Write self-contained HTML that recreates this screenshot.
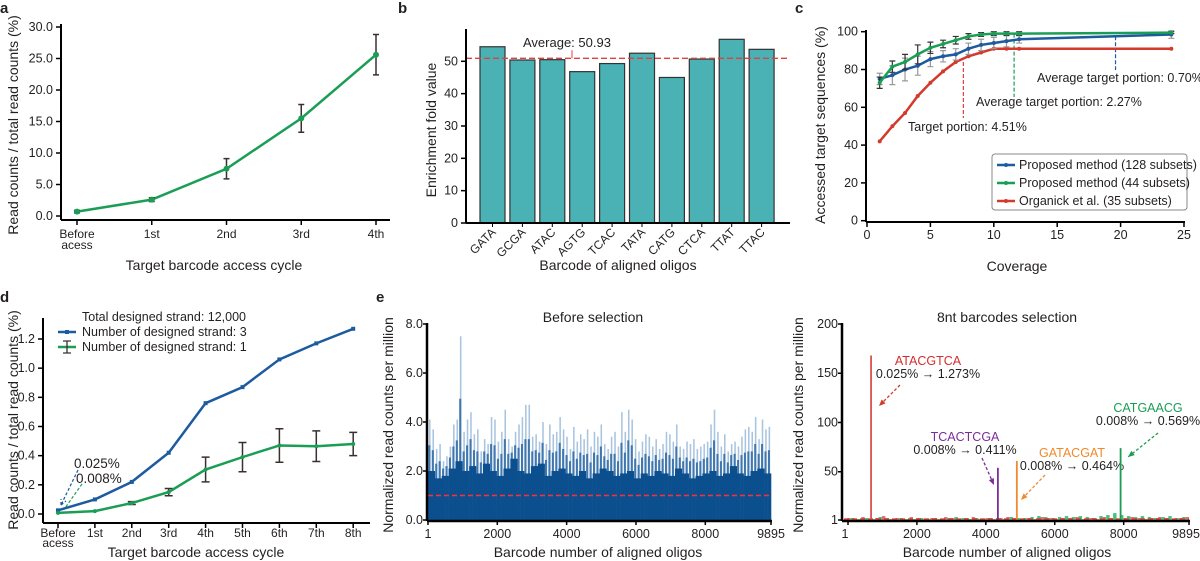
<!DOCTYPE html>
<html><head><meta charset="utf-8"><style>
html,body{margin:0;padding:0;background:#fff}
svg{display:block;font-family:"Liberation Sans",Arial,sans-serif;fill:#231f20}
text{fill:#231f20}
</style></head><body>
<svg id="fig" width="1200" height="561" viewBox="0 0 1200 561">
<g font-weight="bold" font-size="15">
<text x="0" y="13">a</text>
<text x="398" y="13">b</text>
<text x="795" y="13">c</text>
<text x="0" y="302">d</text>
<text x="376" y="302">e</text>
</g>
<g font-size="14">
<text transform="translate(18,125) rotate(-90)" text-anchor="middle">Read counts / total read counts (%)</text>
<text x="214" y="270" text-anchor="middle">Target barcode access cycle</text>
<text transform="translate(436,130) rotate(-90)" text-anchor="middle">Enrichment fold value</text>
<text x="618" y="270" text-anchor="middle">Barcode of aligned oligos</text>
<text x="523" y="47" font-size="13">Average: 50.93</text>
<text transform="translate(825,125) rotate(-90)" text-anchor="middle">Accessed target sequences (%)</text>
<text x="1017" y="271" text-anchor="middle">Coverage</text>
<text x="1037" y="82" font-size="12.5">Average target portion: 0.70%</text>
<text x="976" y="106" font-size="12.5">Average target portion: 2.27%</text>
<text x="908" y="131" font-size="12.5">Target portion: 4.51%</text>
<text transform="translate(18,420) rotate(-90)" text-anchor="middle">Read counts / total read counts (%)</text>
<text x="196" y="557" text-anchor="middle">Target barcode access cycle</text>
<text x="82" y="321" font-size="12.5">Total designed strand: 12,000</text>
<text x="82" y="336" font-size="12.5">Number of designed strand: 3</text>
<text x="82" y="351" font-size="12.5">Number of designed strand: 1</text>
<text x="74" y="468" font-size="13.5">0.025%</text>
<text x="76" y="483" font-size="13.5">0.008%</text>
<text transform="translate(393,425) rotate(-90)" text-anchor="middle">Normalized read counts per million</text>
<text x="593" y="322" text-anchor="middle">Before selection</text>
<text x="598" y="557" text-anchor="middle">Barcode number of aligned oligos</text>
<text transform="translate(803,425) rotate(-90)" text-anchor="middle">Normalized read counts per million</text>
<text x="1007" y="322" text-anchor="middle">8nt barcodes selection</text>
<text x="1007" y="557" text-anchor="middle">Barcode number of aligned oligos</text>
</g>
<g font-size="12.5" text-anchor="middle">
<text x="928" y="365" style="fill:#d32f2f">ATACGTCA</text>
<text x="928" y="378">0.025% → 1.273%</text>
<text x="965" y="441" style="fill:#7b2d9a">TCACTCGA</text>
<text x="965" y="454">0.008% → 0.411%</text>
<text x="1072" y="457" style="fill:#f08a2c">GATACGAT</text>
<text x="1072" y="470">0.008% → 0.464%</text>
<text x="1148" y="412" style="fill:#1a9e55">CATGAACG</text>
<text x="1148" y="425">0.008% → 0.569%</text>
</g>
<g id="marks"></g>
</svg>
<script>
// ---- data ----
const aCats = ['Before|acess','1st','2nd','3rd','4th'];
const aVals = [0.7, 2.6, 7.5, 15.5, 25.6];
const aErr = [0.2, 0.3, 1.6, 2.2, 3.2];
const aTicks = [0,5,10,15,20,25,30];
const bCats = ['GATA','GCGA','ATAC','AGTG','TCAC','TATA','CATG','CTCA','TTAT','TTAC'];
const bVals = [54.5, 50.4, 50.5, 46.8, 49.3, 52.5, 45.0, 50.7, 56.8, 53.7];
const bAvg = 50.93;
const bTicks = [0,10,20,30,40,50];
const cX = [1,2,3,4,5,6,7,8,9,10,11,12,24];
const cBlue = [75,77,80,82,85.5,87,88,91,93,94,95,96,98.5];
const cBlueErr = [3,5,6,5,4,3,3,3,3,3,3,2,2];
const cGreen = [73,81.5,84,88,91.5,93.5,95.5,97.5,98.5,99,99,99,99.5];
const cGreenErr = [3,3,4,5,3,2,2,1.5,1,1,1,1,0.5];
const cRed = [42,50,57,66,73,79,84,87,89,91,91,91,91];
const cXTicks = [0,5,10,15,20,25];
const cYTicks = [0,20,40,60,80,100];
const dCats = ['Before|acess','1st','2nd','3rd','4th','5th','6th','7th','8th'];
const dBlue = [0.025,0.1,0.22,0.42,0.76,0.87,1.06,1.17,1.27];
const dGreen = [0.008,0.02,0.075,0.15,0.305,0.39,0.47,0.465,0.48];
const dGreenErr = [0,0,0.01,0.025,0.085,0.1,0.115,0.105,0.08];
const dTicks = [0,0.2,0.4,0.6,0.8,1.0,1.2];
const eLeftPeaks = [4.1,3.7,2.9,3.1,2.4,2.6,3.0,3.9,4.1,7.5,3.6,4.1,4.4,3.5,3.7,2.8,3.3,3.1,4.2,4.1,3.2,3.6,4.5,3.3,3.0,3.6,3.9,4.2,4.7,4.7,3.4,3.5,3.2,4.0,3.1,3.9,3.5,3.6,4.2,3.7,3.4,2.9,3.8,3.2,3.5,3.3,3.7,3.0,3.6,3.4,3.9,3.1,2.9,3.4,3.6,3.0,4.4,3.6,4.5,4.1,3.3,2.8,3.2,3.5,3.4,3.0,3.3,2.9,3.1,3.6,3.5,3.2,3.9,3.0,2.9,3.2,3.1,3.3,2.9,3.0,3.1,3.2,3.9,4.5,3.6,3.0,3.5,2.8,3.1,3.2,3.0,3.4,3.7,3.8,3.6,4.2,3.3,4.1,3.7,3.8];
const eLeftTypical = [2.0,1.7,1.8,2.1,2.4,2.0,2.2,1.9,2.3,2.0,1.8,2.1,2.5,2.0,1.9,2.2,2.3,1.8,2.0,2.1,1.9,1.8,2.0,1.7,1.9,2.1,2.0,1.8,1.9,2.0,1.7,1.9,1.8,2.0,1.9,1.8,2.1,1.9,1.7,1.8,1.9,2.0,1.8,1.9,2.2,1.9,1.8,2.0,2.1,1.9];
const eLeftXTicks = [1,2000,4000,6000,8000,9895];
const eLeftYTicks = [0,2,4,6,8];
const eRightSpikeX = [670, 4350, 4900, 7910];
const eRightSpikeY = [168, 54, 61, 74];
const eRightSpikeColor = ['#d9534f','#7b2d9a','#f08a2c','#1a9e55'];
const eRightNoiseRed = [3,2,4,2,3,5,2,3,2,4,3,2,3,2,4,3,2,3,4,2,3,2,3,4,3,2,3,2,4,3,2,3,3,4,2,3,2,4,3,2,3,4,3,2,3,4,3,2,3,4];
const eRightNoiseGreen = [2,3,2,3,2,4,3,2,3,2,2,3,2,3,2,3,4,3,2,3,2,3,3,2,4,3,3,4,5,4,3,4,5,4,5,4,3,5,6,8,6,5,4,5,4,3,4,5,3,4];
const eRightXTicks = [1,2000,4000,6000,8000,9895];
const eRightYTicks = [1,50,100,150,200];

// ---- helpers ----
const NS='http://www.w3.org/2000/svg';
const root=document.getElementById('marks');
function add(tag, at){const e=document.createElementNS(NS,tag);for(const k in at)e.setAttribute(k,at[k]);root.appendChild(e);return e;}
function lin(d0,d1,r0,r1){return v=>r0+(v-d0)*(r1-r0)/(d1-d0);}
function txt(x,y,s,anchor,size){const e=add('text',{x:x,y:y,'text-anchor':anchor||'middle','font-size':size||12.5});e.textContent=s;return e;}
function fmt1(v){return v.toFixed(1);}

// ---- panel a ----
{
const ax=61, ay=220;
const xs=i=>77+i*74.75, ys=lin(0,30,216,27);
let e=add('line',{x1:ax,y1:24,x2:ax,y2:ay,stroke:'#000','stroke-width':2});


e=add('line',{x1:ax,y1:ay,x2:390,y2:ay,stroke:'#000','stroke-width':2});


aTicks.forEach(v=>{add('line',{x1:ax-5,y1:ys(v),x2:ax,y2:ys(v),stroke:'#000','stroke-width':1.5});
 const t=txt(ax-8,ys(v)+4,fmt1(v),'end',12.5);
 
 });
aCats.forEach((c,i)=>{add('line',{x1:xs(i),y1:ay,x2:xs(i),y2:ay+5,stroke:'#000','stroke-width':1.5});
 const p=c.split('|');p.forEach((s,j)=>{const t=txt(xs(i),ay+18+j*11,s,'middle',12);
 
 });});
const l=add('polyline',{points:aVals.map((v,i)=>xs(i)+','+ys(v)).join(' '),fill:'none',stroke:'#1a9e55','stroke-width':2.5});


aVals.forEach((v,i)=>{const g=add('path',{d:`M${xs(i)},${ys(v+aErr[i])}V${ys(v-aErr[i])}M${xs(i)-3},${ys(v+aErr[i])}h6M${xs(i)-3},${ys(v-aErr[i])}h6`,stroke:'#3a3030','stroke-width':1.5,fill:'none'});
 
 
 const c=add('circle',{cx:xs(i),cy:ys(v),r:3,fill:'#1a9e55'});
 
 });
}
// ---- panel b ----
{
const ax=466, ay=223;
const ys=lin(0,50,223,61.3), xs=i=>492.5+i*29.9;
bVals.forEach((v,i)=>{const r=add('rect',{x:xs(i)-12.5,y:ys(v),width:25,height:ay-ys(v),fill:'#4ab2b5',stroke:'#333','stroke-width':1.2});
 
 
 add('line',{x1:xs(i),y1:ay,x2:xs(i),y2:ay+4,stroke:'#000','stroke-width':1});
 const t=add('text',{transform:`translate(${xs(i)+4},${ay+10}) rotate(-45)`,'text-anchor':'end','font-size':12});t.textContent=bCats[i];
 
 });
let e=add('line',{x1:ax,y1:ys(bAvg),x2:790,y2:ys(bAvg),stroke:'#e04040','stroke-width':1.3,'stroke-dasharray':'6,3'});


add('line',{x1:572,y1:ys(bAvg),x2:572,y2:ys(bAvg)-8,stroke:'#e04040','stroke-width':1});
e=add('line',{x1:ax,y1:29,x2:ax,y2:ay,stroke:'#000','stroke-width':2});


e=add('line',{x1:ax,y1:ay,x2:790,y2:ay,stroke:'#000','stroke-width':2});


bTicks.forEach(v=>{add('line',{x1:ax-5,y1:ys(v),x2:ax,y2:ys(v),stroke:'#000','stroke-width':1.5});
 const t=txt(ax-8,ys(v)+4,String(v),'end',12.5);
 
 });
}
// ---- panel c ----
{
const ax=866, ay=222;
const xs=lin(0,25,867,1184), ys=lin(0,100,220.7,31.7);
[[7.6,84,118,'#e04040'],[11.6,99,97,'#1a9e55'],[19.6,97.6,70,'#1d5aa0']].forEach((a,i)=>{
 const d=add('line',{x1:xs(a[0]),y1:ys(a[1]),x2:xs(a[0]),y2:a[2],stroke:a[3],'stroke-width':1.2,'stroke-dasharray':'4,2'});
 
 });
function series(vals,err,col,name){
 if(err) vals.forEach((v,i)=>{const x=xs(cX[i]);const g=add('path',{d:`M${x},${ys(v+err[i])}V${ys(v-err[i])}M${x-3},${ys(v+err[i])}h6M${x-3},${ys(v-err[i])}h6`,stroke:name==='blue'?'#999':'#333','stroke-width':1.2,fill:'none'});
  
  });
 const l=add('polyline',{points:vals.map((v,i)=>xs(cX[i])+','+ys(v)).join(' '),fill:'none',stroke:col,'stroke-width':2.5});
 
 
 vals.forEach((v,i)=>{const c=add('circle',{cx:xs(cX[i]),cy:ys(v),r:2,fill:col});
  
  });
}
series(cRed,null,'#d33a2c','red');
series(cBlue,cBlueErr,'#1d5aa0','blue');
series(cGreen,cGreenErr,'#1a9e55','green');
let e=add('line',{x1:ax,y1:30,x2:ax,y2:ay,stroke:'#000','stroke-width':2});


e=add('line',{x1:ax,y1:ay,x2:1185,y2:ay,stroke:'#000','stroke-width':2});


cYTicks.forEach(v=>{add('line',{x1:ax-5,y1:ys(v),x2:ax,y2:ys(v),stroke:'#000','stroke-width':1.5});
 const t=txt(ax-8,ys(v)+4,String(v),'end',12.5);
 
 });
cXTicks.forEach(v=>{add('line',{x1:xs(v),y1:ay,x2:xs(v),y2:ay+5,stroke:'#000','stroke-width':1.5});
 const t=txt(xs(v),ay+17,String(v),'middle',12.5);
 
 });
e=add('rect',{x:992,y:154,width:195,height:56,rx:3,fill:'#fff',stroke:'#888','stroke-width':1});


[['#1d5aa0','Proposed method (128 subsets)'],['#1a9e55','Proposed method (44 subsets)'],['#d33a2c','Organick et al. (35 subsets)']].forEach((L,i)=>{
 const y=165+i*18;
 add('line',{x1:997,y1:y,x2:1015,y2:y,stroke:L[0],'stroke-width':2.5});
 add('circle',{cx:1006,cy:y,r:2,fill:L[0]});
 const t=txt(1019,y+4,L[1],'start',12.5);
 
 });
}
// ---- panel d ----
{
const ax=43, ay=523;
const xs=i=>58+i*36.9, ys=lin(0,1.2,514,339);
let l=add('polyline',{points:dBlue.map((v,i)=>xs(i)+','+ys(v)).join(' '),fill:'none',stroke:'#1d5aa0','stroke-width':2.5});


dGreen.forEach((v,i)=>{if(dGreenErr[i]>0){const x=xs(i);const g=add('path',{d:`M${x},${ys(v+dGreenErr[i])}V${ys(v-dGreenErr[i])}M${x-4},${ys(v+dGreenErr[i])}h8M${x-4},${ys(v-dGreenErr[i])}h8`,stroke:'#3a3030','stroke-width':1.5,fill:'none'});
 
 }});
l=add('polyline',{points:dGreen.map((v,i)=>xs(i)+','+ys(v)).join(' '),fill:'none',stroke:'#1a9e55','stroke-width':2.5});


dBlue.forEach((v,i)=>{const c=add('rect',{x:xs(i)-2,y:ys(v)-2,width:4,height:4,fill:'#1d5aa0'});
 
 });
dGreen.forEach((v,i)=>{const c=add('circle',{cx:xs(i),cy:ys(v),r:2,fill:'#1a9e55'});
 
 });
let e=add('path',{d:'M78,470 L61,505 M61,505 l0,-6 M61,505 l5,-4',stroke:'#1d5aa0','stroke-width':1.2,'stroke-dasharray':'3,2',fill:'none'});


e=add('path',{d:'M82,484 L65,508',stroke:'#1a9e55','stroke-width':1.2,'stroke-dasharray':'3,2',fill:'none'});


e=add('line',{x1:ax,y1:318,x2:ax,y2:ay,stroke:'#000','stroke-width':2});


e=add('line',{x1:ax,y1:ay,x2:370,y2:ay,stroke:'#000','stroke-width':2});


dTicks.forEach(v=>{add('line',{x1:ax-5,y1:ys(v),x2:ax,y2:ys(v),stroke:'#000','stroke-width':1.5});
 const t=txt(ax-8,ys(v)+4,fmt1(v),'end',12.5);
 
 });
dCats.forEach((c,i)=>{add('line',{x1:xs(i),y1:ay,x2:xs(i),y2:ay+5,stroke:'#000','stroke-width':1.5});
 c.split('|').forEach((s,j)=>{const t=txt(xs(i),ay+14+j*10,s,'middle',12);
 
 });});
add('line',{x1:58,y1:332,x2:76,y2:332,stroke:'#1d5aa0','stroke-width':2.5});
add('rect',{x:65,y:330,width:4,height:4,fill:'#1d5aa0'});
add('line',{x1:58,y1:347,x2:76,y2:347,stroke:'#1a9e55','stroke-width':2.5});
add('path',{d:'M67,341V353M63,341h8M63,353h8',stroke:'#3a3030','stroke-width':1.3,fill:'none'});
}
// ---- panel e left ----
{
const ax=427, ay=521;
const xs=lin(1,9895,428,771), ys=lin(0,8,520,324);
const bw=(771-428)/eLeftPeaks.length;
eLeftPeaks.forEach((p,i)=>{const x=428+i*bw; const typ=eLeftTypical[Math.floor(i/2)];
 const a=add('rect',{x:x+bw*0.3,y:ys(p),width:bw*0.45,height:520-ys(p),fill:'#a9c4df'});
 
 
 const b=add('rect',{x:x+bw*0.1,y:ys((p+typ)/2),width:bw*0.6,height:520-ys((p+typ)/2),fill:'#3f77ae'});
 
 
 const c=add('rect',{x:x,y:ys(typ),width:bw+0.3,height:520-ys(typ),fill:'#0b4f8e'});
 
 });
let e=add('line',{x1:428,y1:ys(1),x2:771,y2:ys(1),stroke:'#ff3030','stroke-width':1.5,'stroke-dasharray':'5,3'});


e=add('line',{x1:ax,y1:323,x2:ax,y2:ay,stroke:'#000','stroke-width':2.5});


e=add('line',{x1:ax,y1:ay,x2:772,y2:ay,stroke:'#000','stroke-width':2.5});


eLeftYTicks.forEach(v=>{add('line',{x1:ax-4,y1:ys(v),x2:ax,y2:ys(v),stroke:'#000','stroke-width':1.5});
 const t=txt(ax-4,ys(v)+4,fmt1(v),'end',12.5);
 
 });
eLeftXTicks.forEach(v=>{add('line',{x1:xs(v),y1:ay,x2:xs(v),y2:ay+4,stroke:'#000','stroke-width':1.5});
 const t=txt(xs(v),ay+17,String(v),'middle',12.5);
 
 });
}
// ---- panel e right ----
{
const ax=842, ay=521;
const xs=lin(1,9895,848,1189), ys=lin(1,200,520,324);
const bw=(1189-844)/eRightNoiseRed.length;
eRightNoiseRed.forEach((v,i)=>{const x=844+i*bw;
 const g=add('rect',{x:x,y:ys(eRightNoiseGreen[i]),width:bw*0.5,height:520-ys(eRightNoiseGreen[i]),fill:'#4cc07a'});
 
 
 const r=add('rect',{x:x+bw*0.5,y:ys(v),width:bw*0.5,height:520-ys(v),fill:'#e07070'});
 
 });
let e=add('line',{x1:844,y1:519,x2:1189,y2:519,stroke:'#e03030','stroke-width':1.3,'stroke-dasharray':'5,3'});


eRightSpikeX.forEach((v,i)=>{const s=add('line',{x1:xs(v),y1:ys(eRightSpikeY[i]),x2:xs(v),y2:520,stroke:eRightSpikeColor[i],'stroke-width':1.8});
 
 });
[['M900,385 L879,406','#d33a2c'],['M982,458 L994,485','#7b2d9a'],['M1045,475 L1021,500','#f08a2c'],['M1158,433 L1128,457','#1a9e55']].forEach(A=>{
 const a=add('path',{d:A[0],stroke:A[1],'stroke-width':1.3,'stroke-dasharray':'3,2',fill:'none'});
 
 
 const p=A[0].match(/[\d.]+/g).map(Number);const ang=Math.atan2(p[3]-p[1],p[2]-p[0]);
 const h=add('path',{d:`M${p[2]},${p[3]} L${p[2]-7*Math.cos(ang-0.4)},${p[3]-7*Math.sin(ang-0.4)} L${p[2]-7*Math.cos(ang+0.4)},${p[3]-7*Math.sin(ang+0.4)}Z`,fill:A[1]});
 
 });
e=add('line',{x1:ax,y1:323,x2:ax,y2:ay,stroke:'#000','stroke-width':2.5});


e=add('line',{x1:ax,y1:ay,x2:1190,y2:ay,stroke:'#000','stroke-width':2.5});


eRightYTicks.forEach(v=>{add('line',{x1:ax-4,y1:ys(v),x2:ax,y2:ys(v),stroke:'#000','stroke-width':1.5});
 const t=txt(ax-4,ys(v)+4,String(v),'end',12.5);
 
 });
eRightXTicks.forEach(v=>{add('line',{x1:xs(v),y1:ay,x2:xs(v),y2:ay+4,stroke:'#000','stroke-width':1.5});
 const t=txt(v===1?845:xs(v)-(v===9895?3:0),ay+17,String(v),'middle',12.5);
 
 });
}
</script>
</body></html>
